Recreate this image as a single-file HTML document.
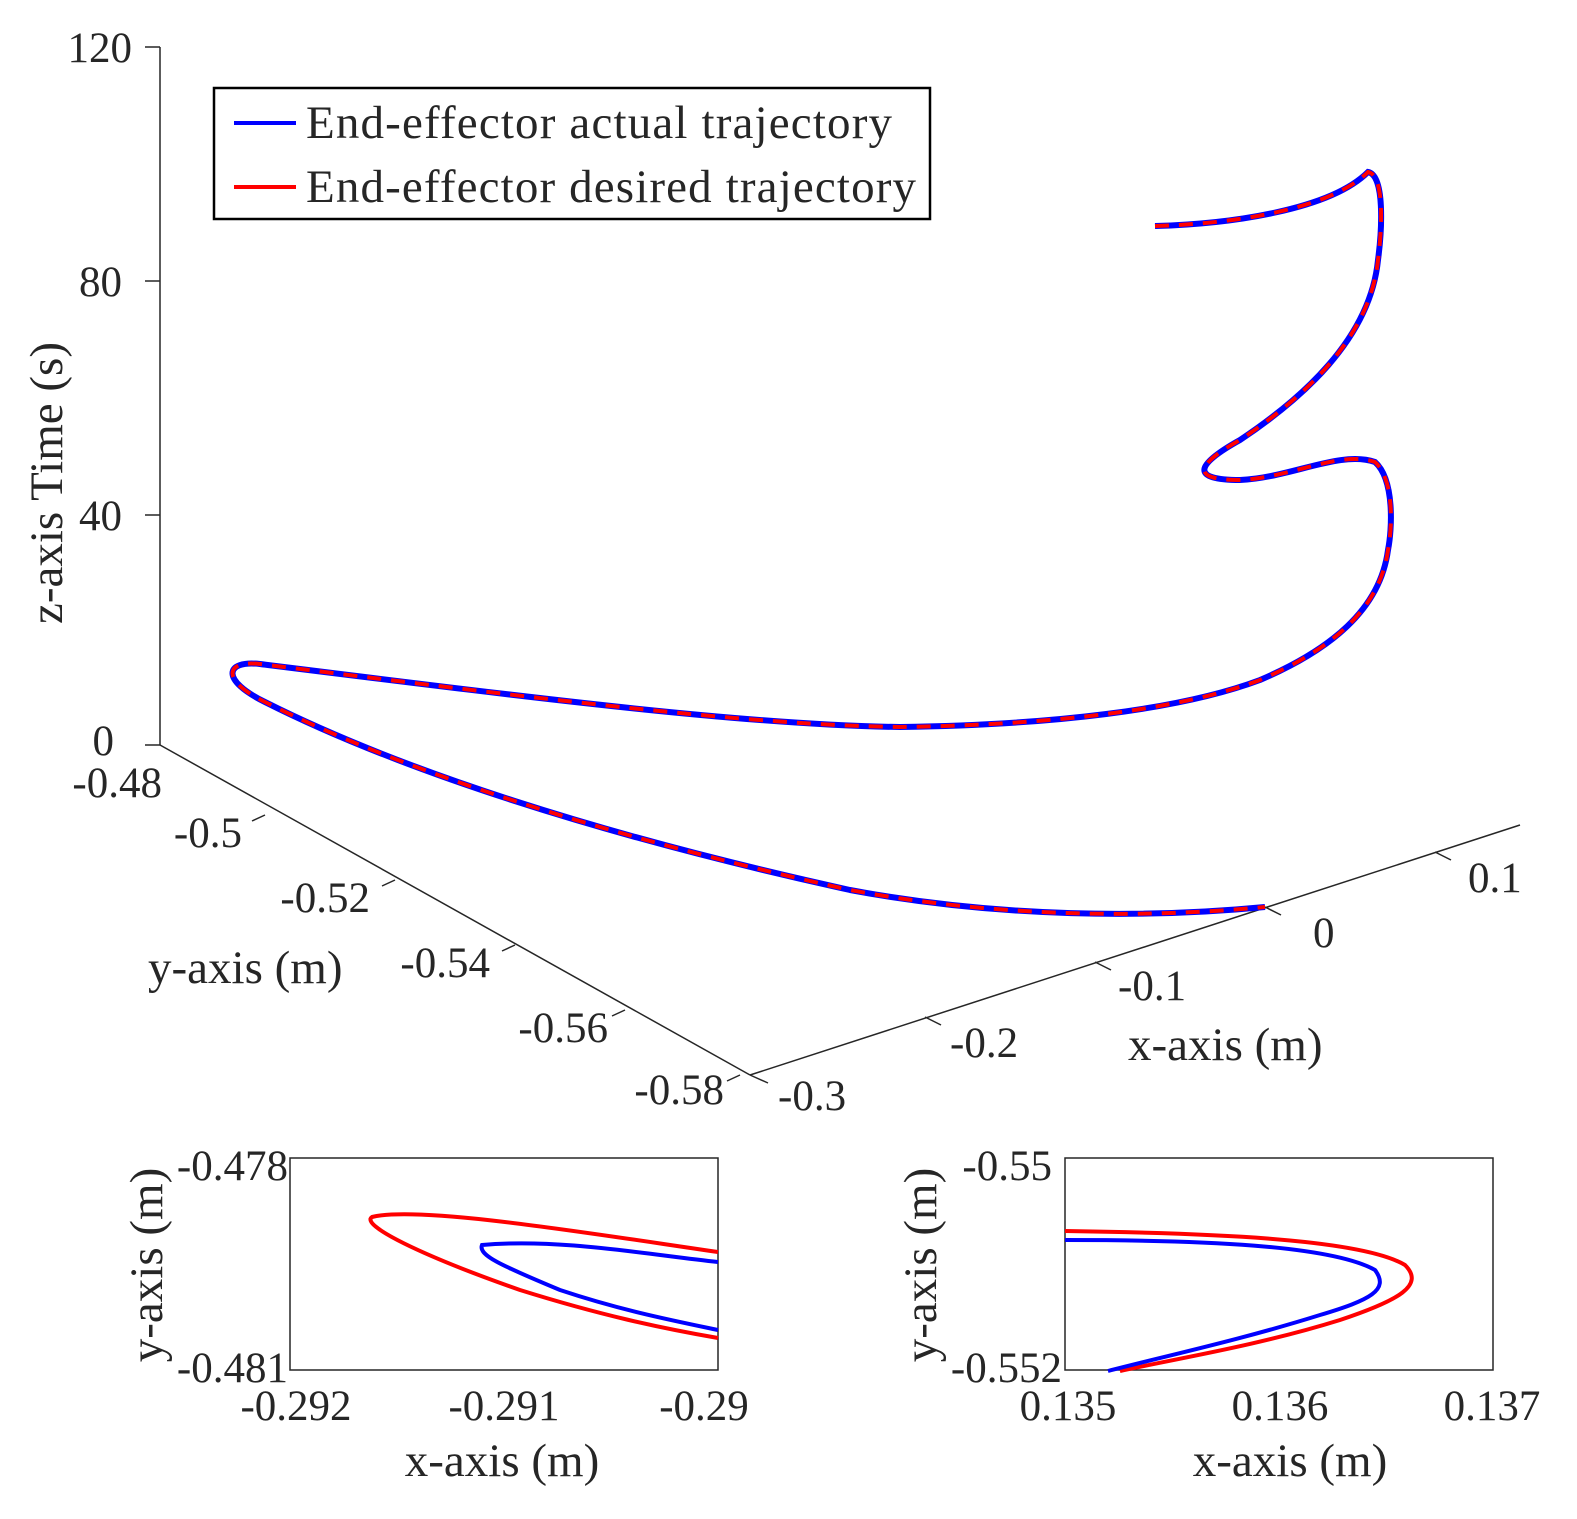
<!DOCTYPE html>
<html><head><meta charset="utf-8"><style>
body{margin:0;background:#fff}
svg text{font-family:"Liberation Serif",serif;fill:#262626}
</style></head><body>
<svg width="1577" height="1514" viewBox="0 0 1577 1514" xmlns="http://www.w3.org/2000/svg">
<g stroke="#262626" stroke-width="1.5" fill="none">
<line x1="160" y1="47" x2="160" y2="745"/>
<line x1="145" y1="47" x2="160" y2="47"/>
<line x1="145" y1="281" x2="160" y2="281"/>
<line x1="145" y1="515" x2="160" y2="515"/>
<line x1="145" y1="745" x2="160" y2="745"/>
<line x1="160" y1="745" x2="750" y2="1075"/>
<line x1="265" y1="815" x2="252" y2="821"/>
<line x1="395" y1="880" x2="382" y2="886"/>
<line x1="515" y1="945" x2="502" y2="951"/>
<line x1="625" y1="1010" x2="612" y2="1016"/>
<line x1="740" y1="1075" x2="727" y2="1081"/>
<line x1="750" y1="1075" x2="1520" y2="825"/>
<line x1="750" y1="1075" x2="768" y2="1083"/>
<line x1="925" y1="1017" x2="941" y2="1025"/>
<line x1="1095" y1="962" x2="1111" y2="970"/>
<line x1="1265" y1="907" x2="1281" y2="915"/>
<line x1="1435" y1="852" x2="1451" y2="860"/>
</g>
<g font-size="43" text-anchor="end">
<text x="132" y="62">120</text><text x="122" y="296">80</text><text x="122" y="530">40</text><text x="114" y="755">0</text>
<text x="162" y="797">-0.48</text><text x="242" y="847">-0.5</text><text x="370" y="912">-0.52</text><text x="490" y="977">-0.54</text><text x="608" y="1042">-0.56</text><text x="724" y="1104">-0.58</text>
</g>
<g font-size="43">
<text x="778" y="1110">-0.3</text><text x="950" y="1057">-0.2</text><text x="1118" y="1000">-0.1</text><text x="1313" y="947">0</text><text x="1468" y="892">0.1</text>
</g>
<text x="148" y="983" font-size="47">y-axis (m)</text>
<text x="1128" y="1060" font-size="47">x-axis (m)</text>
<text transform="translate(62,483) rotate(-90)" font-size="47" text-anchor="middle">z-axis Time (s)</text>
<path d="M1155,226 C1230,224 1330,210 1368,172 C1385,175 1382,230 1378,260 C1370,340 1300,400 1240,440 C1195,465 1190,480 1240,480 C1290,478 1340,450 1375,462 C1395,480 1392,530 1388,550 C1380,610 1330,650 1260,680 C1180,710 1050,725 900,727 C750,725 550,700 260,664 C225,660 220,680 265,702 C400,770 600,835 850,890 C1000,918 1150,918 1265,907" fill="none" stroke="#0000ff" stroke-width="6"/>
<path d="M1155,226 C1230,224 1330,210 1368,172 C1385,175 1382,230 1378,260 C1370,340 1300,400 1240,440 C1195,465 1190,480 1240,480 C1290,478 1340,450 1375,462 C1395,480 1392,530 1388,550 C1380,610 1330,650 1260,680 C1180,710 1050,725 900,727 C750,725 550,700 260,664 C225,660 220,680 265,702 C400,770 600,835 850,890 C1000,918 1150,918 1265,907" fill="none" stroke="#ff0000" stroke-width="4" stroke-dasharray="14 10"/>
<rect x="214" y="88" width="716" height="131" fill="#fff" stroke="#000" stroke-width="2.5"/>
<line x1="234" y1="123" x2="296" y2="123" stroke="#0000ff" stroke-width="4"/>
<line x1="234" y1="187" x2="296" y2="187" stroke="#ff0000" stroke-width="4"/>
<text x="306" y="138" font-size="47" fill="#000" textLength="586">End-effector actual trajectory</text>
<text x="306" y="202" font-size="47" fill="#000" textLength="610">End-effector desired trajectory</text>
<!-- left inset -->
<rect x="290" y="1158" width="428" height="212" fill="none" stroke="#262626" stroke-width="1.5"/>
<path d="M718,1252 C600,1235 420,1205 372,1217 C360,1225 420,1255 520,1290 C600,1315 660,1328 718,1338" fill="none" stroke="#ff0000" stroke-width="4"/>
<path d="M718,1262 C650,1255 560,1238 482,1245 C478,1255 500,1265 560,1290 C620,1310 670,1320 718,1330" fill="none" stroke="#0000ff" stroke-width="4"/>
<g font-size="43">
<text x="288" y="1180" text-anchor="end">-0.478</text><text x="288" y="1382" text-anchor="end">-0.481</text>
<text x="296" y="1420" text-anchor="middle">-0.292</text><text x="504" y="1420" text-anchor="middle">-0.291</text><text x="704" y="1420" text-anchor="middle">-0.29</text>
<text x="502" y="1476" font-size="47" text-anchor="middle">x-axis (m)</text>
<text transform="translate(162,1265) rotate(-90)" font-size="47" text-anchor="middle">y-axis (m)</text>
</g>
<!-- right inset -->
<rect x="1065" y="1158" width="428" height="212" fill="none" stroke="#262626" stroke-width="1.5"/>
<path d="M1065,1231 C1200,1233 1360,1238 1405,1265 C1425,1285 1400,1300 1340,1320 C1260,1345 1180,1358 1120,1371" fill="none" stroke="#ff0000" stroke-width="4"/>
<path d="M1065,1240 C1200,1240 1330,1245 1375,1270 C1390,1290 1370,1300 1320,1315 C1240,1340 1170,1355 1108,1371" fill="none" stroke="#0000ff" stroke-width="4"/>
<g font-size="43">
<text x="1052" y="1180" text-anchor="end">-0.55</text><text x="1062" y="1382" text-anchor="end">-0.552</text>
<text x="1068" y="1420" text-anchor="middle">0.135</text><text x="1280" y="1420" text-anchor="middle">0.136</text><text x="1492" y="1420" text-anchor="middle">0.137</text>
<text x="1290" y="1476" font-size="47" text-anchor="middle">x-axis (m)</text>
<text transform="translate(936,1265) rotate(-90)" font-size="47" text-anchor="middle">y-axis (m)</text>
</g>
</svg>
</body></html>
